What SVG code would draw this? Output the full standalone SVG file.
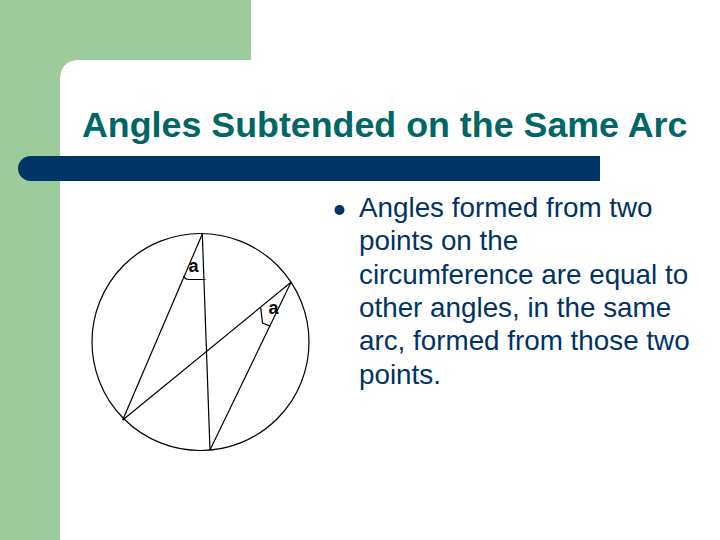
<svg xmlns="http://www.w3.org/2000/svg" width="720" height="540" viewBox="0 0 720 540">
<style>
.geo{fill:none;stroke:#000;stroke-width:1.2}
.lbl{font-family:"Liberation Sans",Arial,sans-serif;font-weight:bold;font-size:18px;fill:#000;text-anchor:middle}
.body{font-family:"Liberation Sans",Arial,sans-serif;font-size:27.8px;fill:#003366}
</style>
<g id="background">
<rect x="0" y="0" width="720" height="540" fill="#ffffff"/>
<path d="M0,0 H251 V60 H80 Q60,60 60,80 V540 H0 Z" fill="#9ccc9c"/>
<path d="M30.5,156 H600 V181 H30.5 A12.5,12.5 0 0 1 30.5,156 Z" fill="#003366"/>
<text x="82" y="137" font-family="'Liberation Sans',Arial,sans-serif" font-weight="bold" font-size="35.8px" fill="#006666">Angles Subtended on the Same Arc</text>
</g>
<g id="figure">
<circle class="geo" cx="200.5" cy="342" r="108.5"/>
<g id="connectors">
<line class="geo" x1="202.3" y1="234" x2="122.7" y2="420"/>
<line class="geo" x1="202.3" y1="234" x2="210" y2="450"/>
<line class="geo" x1="122.7" y1="420" x2="291" y2="282.3"/>
<line class="geo" x1="291" y1="282.3" x2="210" y2="450"/>
</g>
<path class="geo" d="M183.5,276 Q185,279.5 189,279.5 L205.5,279.5"/>
<path class="geo" d="M260.7,307.5 L262.5,323 L270,326"/>
<text class="lbl" x="193.5" y="272">a</text>
<text class="lbl" x="273.5" y="313.5">a</text>
</g>
<g id="bullet">
<circle cx="339.5" cy="210" r="5" fill="#003366"/>
<text class="body" x="359"><tspan x="359" y="217">Angles formed from two</tspan><tspan x="359" y="250.3">points on the</tspan><tspan x="359" y="283.6">circumference are equal to</tspan><tspan x="359" y="316.9">other angles, in the same</tspan><tspan x="359" y="350.2">arc, formed from those two</tspan><tspan x="359" y="383.5">points.</tspan></text>
</g>
</svg>
